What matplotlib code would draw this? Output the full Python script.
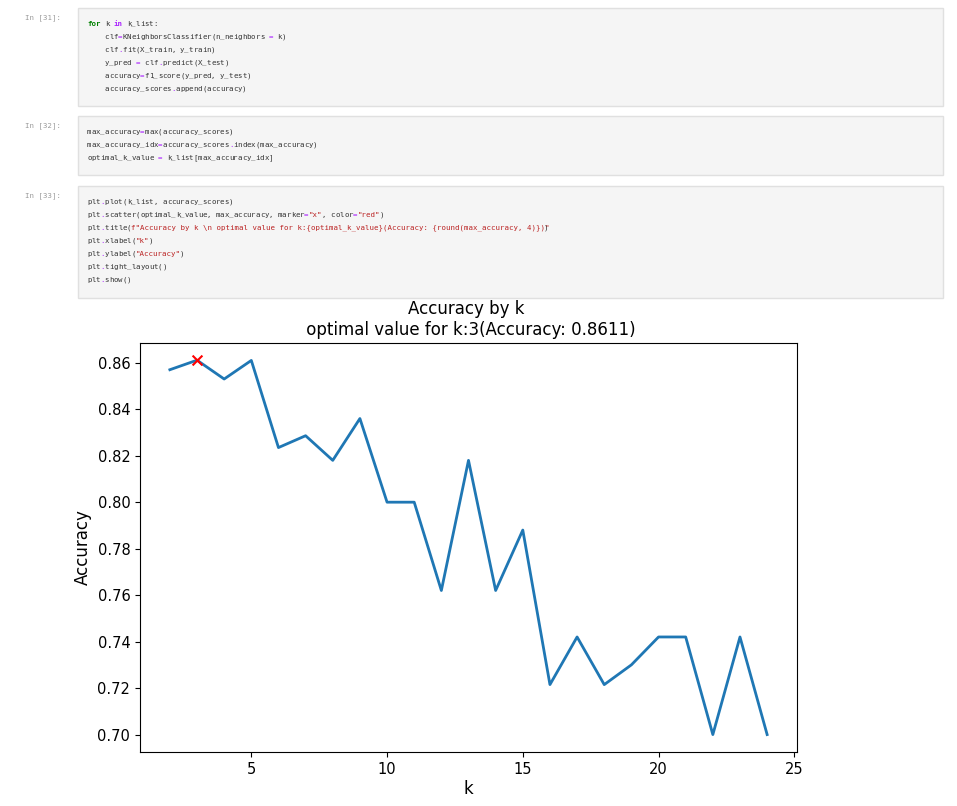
import re
import matplotlib
matplotlib.use("Agg")
import matplotlib.pyplot as plt
from matplotlib.patches import Rectangle

k_list = list(range(2, 25))
accuracy_scores = [0.857, 0.8611, 0.853, 0.861, 0.8235, 0.8286, 0.818, 0.836,
                   0.800, 0.800, 0.762, 0.818, 0.762, 0.788, 0.7215, 0.742,
                   0.7215, 0.730, 0.742, 0.742, 0.700, 0.742, 0.700]
optimal_k_value = 3
max_accuracy = 0.8611

cells = [
    ("In [31]:", ["for k in k_list:",
                  "    clf=KNeighborsClassifier(n_neighbors = k)",
                  "    clf.fit(X_train, y_train)",
                  "    y_pred = clf.predict(X_test)",
                  "    accuracy=f1_score(y_pred, y_test)",
                  "    accuracy_scores.append(accuracy)"]),
    ("In [32]:", ["max_accuracy=max(accuracy_scores)",
                  "max_accuracy_idx=accuracy_scores.index(max_accuracy)",
                  "optimal_k_value = k_list[max_accuracy_idx]"]),
    ("In [33]:", ["plt.plot(k_list, accuracy_scores)",
                  'plt.scatter(optimal_k_value, max_accuracy, marker="x", color="red")',
                  'plt.title(f"Accuracy by k \\n optimal value for k:{optimal_k_value}(Accuracy: {round(max_accuracy, 4)})")',
                  'plt.xlabel("k")',
                  'plt.ylabel("Accuracy")',
                  "plt.tight_layout()",
                  "plt.show()"]),
]
boxes = [(8, 106), (116, 175), (186, 298)]

W, H = 957, 806
fig = plt.figure(figsize=(W / 100, H / 100), dpi=100)
fs = 5.3
cw = 0.602 * fs * 100 / 72
tok = re.compile(r'(f?"[^"]*")|\b(for|in)\b|([=.])|(\b\d+\b)|(.)')

def px(x, y):
    return x / W, 1 - y / H

for (prompt, lines), (top, bot) in zip(cells, boxes):
    fig.patches.append(Rectangle(px(78, bot), 865 / W, (bot - top) / H,
                                 transform=fig.transFigure, facecolor="#f5f5f5",
                                 edgecolor="#e0e0e0", lw=1))
    fig.text(*px(25, top + 10), prompt, family="DejaVu Sans Mono", fontsize=fs,
             color="#999999", va="center")
    for i, line in enumerate(lines):
        y = top + 16 + 13 * i
        col = 0
        for m in tok.finditer(line):
            s = m.group(0)
            if m.group(1):
                c, w = "#BA2121", "normal"
            elif m.group(2):
                c, w = ("#008000" if s == "for" else "#AA22FF"), "bold"
            elif m.group(3):
                c, w = "#AA22FF", "normal"
            elif m.group(4):
                c, w = "#008000", "normal"
            else:
                c, w = "#333333", "normal"
            if s.strip():
                fig.text(*px(87 + col * cw, y), s, family="DejaVu Sans Mono",
                         fontsize=fs, color=c, weight=w, va="center")
            col += len(s)

ax = fig.add_axes([140 / W, 1 - 752 / H, 657 / W, 409 / H])
ax.plot(k_list, accuracy_scores, color="#1f77b4", lw=2)
ax.scatter(optimal_k_value, max_accuracy, marker="x", color="red", s=50, zorder=3)
ax.set_title(f"Accuracy by k \n optimal value for k:{optimal_k_value}(Accuracy: {round(max_accuracy, 4)})",
             fontsize=12)
ax.set_xlabel("k", fontsize=12, labelpad=2)
ax.set_ylabel("Accuracy", fontsize=12)
ax.set_yticks([0.70, 0.72, 0.74, 0.76, 0.78, 0.80, 0.82, 0.84, 0.86])
ax.set_xticks([5, 10, 15, 20, 25])
ax.set_xlim(0.9, 25.1)
ax.set_ylim(0.6925, 0.8685)
ax.tick_params(labelsize=10.5)
fig.savefig("out.png", dpi=100)
